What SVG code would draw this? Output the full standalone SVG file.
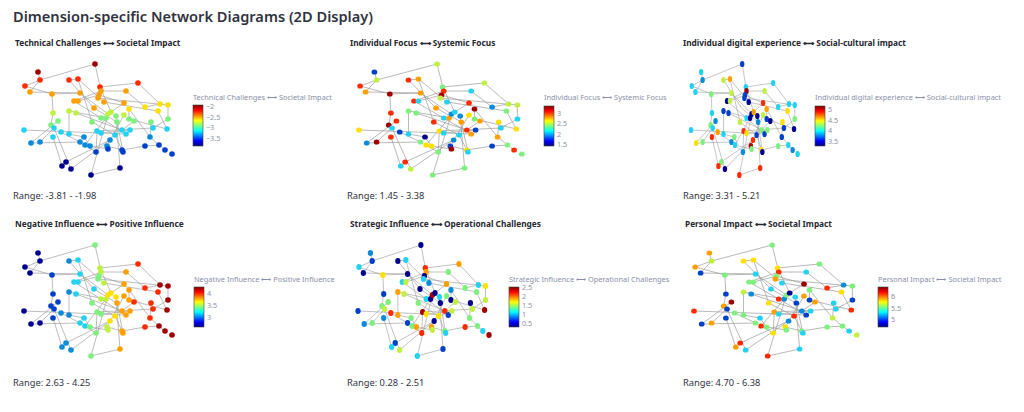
<svg xmlns="http://www.w3.org/2000/svg" width="1024" height="412" viewBox="0 0 1024 412">
<style>
text{font-family:"Noto Sans","Liberation Sans",sans-serif}
.h{font-size:14.6px;font-weight:600;fill:#31333f}
.t{font-size:8.3px;font-weight:700;fill:#262730}
.r{font-size:9.3px;fill:#31333f}
.ct{font-size:7.4px;fill:#8a8fa8}
.tk{font-size:7.2px;fill:#8a8fa8}
.e line{stroke:#a0a0a0;stroke-width:0.7}
.cb{stroke:#444;stroke-width:0.6}
.c0{fill:#00008f}.c1{fill:#0040c8}.c2{fill:#0a8ad8}.c3{fill:#22d2f0}.c4{fill:#7ef07e}.c5{fill:#c0f040}.c6{fill:#ffe000}.c7{fill:#ffa000}.c8{fill:#ff2a00}.c9{fill:#a00000}
#nodes3 circle{r:3.1px}
</style>
<defs>
<linearGradient id="jet" x1="0" y1="1" x2="0" y2="0">
<stop offset="0" stop-color="#00007f"/><stop offset="0.125" stop-color="#0000ff"/><stop offset="0.375" stop-color="#00ffff"/><stop offset="0.625" stop-color="#ffff00"/><stop offset="0.875" stop-color="#ff0000"/><stop offset="1" stop-color="#7f0000"/>
</linearGradient>
<g id="edges" class="e">
<line x1="95" y1="64" x2="40" y2="80"/><line x1="95" y1="64" x2="101" y2="91"/><line x1="38" y1="72" x2="40" y2="80"/><line x1="25" y1="86" x2="40" y2="80"/><line x1="30" y1="92" x2="40" y2="80"/><line x1="30" y1="92" x2="80" y2="93"/><line x1="25" y1="86" x2="52" y2="94"/><line x1="52" y1="94" x2="53" y2="113"/><line x1="53" y1="113" x2="51" y2="125"/><line x1="138" y1="83" x2="100" y2="87"/><line x1="138" y1="83" x2="160" y2="104"/><line x1="160" y1="104" x2="145" y2="107"/><line x1="145" y1="107" x2="126" y2="91"/><line x1="126" y1="91" x2="101" y2="91"/><line x1="69" y1="80" x2="94" y2="108"/><line x1="78" y1="79" x2="104" y2="102"/><line x1="78" y1="79" x2="92" y2="122"/><line x1="74" y1="101" x2="101" y2="118"/><line x1="78" y1="101" x2="99" y2="95"/><line x1="99" y1="95" x2="124" y2="103"/><line x1="124" y1="103" x2="111" y2="112"/><line x1="98" y1="98" x2="168" y2="105"/><line x1="100" y1="87" x2="111" y2="112"/><line x1="80" y1="93" x2="108" y2="114"/><line x1="101" y1="91" x2="74" y2="101"/><line x1="94" y1="108" x2="117" y2="122"/><line x1="129" y1="109" x2="129" y2="119"/><line x1="168" y1="105" x2="168" y2="119"/><line x1="158" y1="111" x2="167" y2="129"/><line x1="168" y1="119" x2="153" y2="128"/><line x1="151" y1="122" x2="150" y2="137"/><line x1="150" y1="137" x2="159" y2="145"/><line x1="159" y1="145" x2="165" y2="150"/><line x1="24" y1="130" x2="126" y2="134"/><line x1="61" y1="132" x2="80" y2="142"/><line x1="69" y1="134" x2="84" y2="137"/><line x1="53" y1="137" x2="62" y2="166"/><line x1="54" y1="128" x2="71" y2="169"/><line x1="58" y1="121" x2="31" y2="143"/><line x1="69" y1="111" x2="69" y2="134"/><line x1="69" y1="111" x2="106" y2="118"/><line x1="92" y1="122" x2="115" y2="135"/><line x1="116" y1="116" x2="120" y2="168"/><line x1="108" y1="114" x2="91" y2="175"/><line x1="124" y1="115" x2="107" y2="146"/><line x1="134" y1="121" x2="122" y2="130"/><line x1="153" y1="128" x2="97" y2="131"/><line x1="97" y1="131" x2="96" y2="152"/><line x1="101" y1="133" x2="130" y2="130"/><line x1="115" y1="135" x2="123" y2="152"/><line x1="110" y1="140" x2="66" y2="162"/><line x1="84" y1="137" x2="90" y2="146"/><line x1="85" y1="145" x2="96" y2="152"/><line x1="90" y1="146" x2="108" y2="149"/><line x1="107" y1="146" x2="122" y2="150"/><line x1="122" y1="150" x2="145" y2="146"/><line x1="145" y1="146" x2="159" y2="145"/><line x1="120" y1="168" x2="91" y2="175"/><line x1="71" y1="169" x2="110" y2="140"/><line x1="80" y1="142" x2="31" y2="143"/><line x1="76" y1="113" x2="122" y2="130"/><line x1="101" y1="118" x2="126" y2="134"/><line x1="52" y1="94" x2="80" y2="93"/><line x1="69" y1="80" x2="78" y2="79"/><line x1="104" y1="102" x2="158" y2="111"/><line x1="129" y1="119" x2="167" y2="129"/><line x1="106" y1="118" x2="85" y2="145"/><line x1="117" y1="122" x2="123" y2="152"/><line x1="129" y1="109" x2="150" y2="137"/><line x1="40" y1="142" x2="54" y2="128"/>
</g>
</defs>
<rect width="1024" height="412" fill="#ffffff"/>
<text class="h" x="13" y="22">Dimension-specific Network Diagrams (2D Display)</text>

<text class="t" x="15" y="46">Technical Challenges ⟷ Societal Impact</text>
<text class="t" x="350" y="46">Individual Focus ⟷ Systemic Focus</text>
<text class="t" x="683" y="46">Individual digital experience ⟷ Social-cultural impact</text>
<text class="t" x="15" y="227">Negative Influence ⟷ Positive Influence</text>
<text class="t" x="350" y="227">Strategic Influence ⟷ Operational Challenges</text>
<text class="t" x="685" y="227">Personal Impact ⟷ Societal Impact</text>
<text class="r" x="13" y="199">Range: -3.81 - -1.98</text>
<text class="r" x="347" y="199">Range: 1.45 - 3.38</text>
<text class="r" x="683" y="199">Range: 3.31 - 5.21</text>
<text class="r" x="13" y="386">Range: 2.63 - 4.25</text>
<text class="r" x="347" y="386">Range: 0.28 - 2.51</text>
<text class="r" x="683" y="386">Range: 4.70 - 6.38</text>

<g id="colorbars">
<text class="ct" x="193" y="100">Technical Challenges ⟷ Societal Impact</text>
<rect class="cb" x="193" y="105" width="10" height="41" fill="url(#jet)"/>
<text class="tk" x="206" y="109">−2</text><text class="tk" x="206" y="120">−2.5</text><text class="tk" x="206" y="130">−3</text><text class="tk" x="206" y="141">−3.5</text>
<text class="ct" x="544" y="100">Individual Focus ⟷ Systemic Focus</text>
<rect class="cb" x="544" y="106" width="10" height="40" fill="url(#jet)"/>
<text class="tk" x="557" y="116">3</text><text class="tk" x="557" y="126">2.5</text><text class="tk" x="557" y="137">2</text><text class="tk" x="557" y="147">1.5</text>
<text class="ct" x="815" y="100">Individual digital experience ⟷ Social-cultural impact</text>
<rect class="cb" x="815" y="106" width="10" height="40" fill="url(#jet)"/>
<text class="tk" x="828" y="112">5</text><text class="tk" x="828" y="123">4.5</text><text class="tk" x="828" y="133">4</text><text class="tk" x="828" y="144">3.5</text>
<text class="ct" x="194" y="282">Negative Influence ⟷ Positive Influence</text>
<rect class="cb" x="194" y="287" width="10" height="40" fill="url(#jet)"/>
<text class="tk" x="207" y="296">4</text><text class="tk" x="207" y="308">3.5</text><text class="tk" x="207" y="320">3</text>
<text class="ct" x="509" y="282">Strategic Influence ⟷ Operational Challenges</text>
<rect class="cb" x="509" y="287" width="10" height="40" fill="url(#jet)"/>
<text class="tk" x="522" y="290">2.5</text><text class="tk" x="522" y="299">2</text><text class="tk" x="522" y="308">1.5</text><text class="tk" x="522" y="317">1</text><text class="tk" x="522" y="326">0.5</text>
<text class="ct" x="878" y="282">Personal Impact ⟷ Societal Impact</text>
<rect class="cb" x="878" y="287" width="10" height="40" fill="url(#jet)"/>
<text class="tk" x="891" y="299">6</text><text class="tk" x="891" y="311">5.5</text><text class="tk" x="891" y="322">5</text>
</g>

<g id="connectors">
<use href="#edges"/>
<use href="#edges" transform="translate(332.6,0) scale(1.1,1)"/>
<use href="#edges" transform="translate(673.8,0) scale(0.72,1)"/>
<use href="#edges" transform="translate(0,181)"/>
<use href="#edges" transform="translate(336.8,181) scale(0.885,1)"/>
<use href="#edges" transform="translate(667.6,181) scale(1.1,1)"/>
</g>

<g id="nodes1">
<circle class="c9" cx="95" cy="64" r="2.8"/><circle class="c9" cx="38" cy="72" r="2.8"/><circle class="c8" cx="40" cy="80" r="2.8"/><circle class="c8" cx="25" cy="86" r="2.8"/><circle class="c7" cx="30" cy="92" r="2.8"/><circle class="c8" cx="69" cy="80" r="2.8"/><circle class="c8" cx="78" cy="79" r="2.8"/><circle class="c8" cx="100" cy="87" r="2.8"/><circle class="c7" cx="101" cy="91" r="2.8"/><circle class="c7" cx="99" cy="95" r="2.8"/><circle class="c7" cx="98" cy="98" r="2.8"/><circle class="c7" cx="52" cy="94" r="2.8"/><circle class="c7" cx="80" cy="93" r="2.8"/><circle class="c7" cx="126" cy="91" r="2.8"/><circle class="c8" cx="138" cy="83" r="2.8"/><circle class="c7" cx="74" cy="101" r="2.8"/><circle class="c7" cx="78" cy="101" r="2.8"/><circle class="c7" cx="104" cy="102" r="2.8"/><circle class="c7" cx="94" cy="108" r="2.8"/><circle class="c7" cx="124" cy="103" r="2.8"/><circle class="c6" cx="129" cy="109" r="2.8"/><circle class="c6" cx="145" cy="107" r="2.8"/><circle class="c6" cx="160" cy="104" r="2.8"/><circle class="c6" cx="168" cy="105" r="2.8"/><circle class="c6" cx="158" cy="111" r="2.8"/><circle class="c4" cx="168" cy="119" r="2.8"/><circle class="c5" cx="53" cy="113" r="2.8"/><circle class="c4" cx="58" cy="121" r="2.8"/><circle class="c5" cx="69" cy="111" r="2.8"/><circle class="c5" cx="76" cy="113" r="2.8"/><circle class="c4" cx="51" cy="125" r="2.8"/><circle class="c3" cx="54" cy="128" r="2.8"/><circle class="c4" cx="92" cy="122" r="2.8"/><circle class="c4" cx="101" cy="118" r="2.8"/><circle class="c4" cx="106" cy="118" r="2.8"/><circle class="c5" cx="108" cy="114" r="2.8"/><circle class="c5" cx="111" cy="112" r="2.8"/><circle class="c4" cx="116" cy="116" r="2.8"/><circle class="c5" cx="124" cy="115" r="2.8"/><circle class="c4" cx="117" cy="122" r="2.8"/><circle class="c4" cx="129" cy="119" r="2.8"/><circle class="c4" cx="134" cy="121" r="2.8"/><circle class="c4" cx="151" cy="122" r="2.8"/><circle class="c3" cx="153" cy="128" r="2.8"/><circle class="c3" cx="167" cy="129" r="2.8"/><circle class="c3" cx="24" cy="130" r="2.8"/><circle class="c3" cx="61" cy="132" r="2.8"/><circle class="c3" cx="69" cy="134" r="2.8"/><circle class="c3" cx="53" cy="137" r="2.8"/><circle class="c3" cx="97" cy="131" r="2.8"/><circle class="c3" cx="101" cy="133" r="2.8"/><circle class="c3" cx="122" cy="130" r="2.8"/><circle class="c3" cx="126" cy="134" r="2.8"/><circle class="c3" cx="130" cy="130" r="2.8"/><circle class="c3" cx="115" cy="135" r="2.8"/><circle class="c2" cx="84" cy="137" r="2.8"/><circle class="c2" cx="150" cy="137" r="2.8"/><circle class="c2" cx="110" cy="140" r="2.8"/><circle class="c2" cx="31" cy="143" r="2.8"/><circle class="c2" cx="40" cy="142" r="2.8"/><circle class="c2" cx="80" cy="142" r="2.8"/><circle class="c2" cx="85" cy="145" r="2.8"/><circle class="c2" cx="90" cy="146" r="2.8"/><circle class="c2" cx="107" cy="146" r="2.8"/><circle class="c1" cx="108" cy="149" r="2.8"/><circle class="c1" cx="96" cy="152" r="2.8"/><circle class="c1" cx="122" cy="150" r="2.8"/><circle class="c1" cx="123" cy="152" r="2.8"/><circle class="c1" cx="145" cy="146" r="2.8"/><circle class="c1" cx="159" cy="145" r="2.8"/><circle class="c1" cx="165" cy="150" r="2.8"/><circle class="c1" cx="172" cy="154" r="2.8"/><circle class="c0" cx="66" cy="162" r="2.8"/><circle class="c0" cx="62" cy="166" r="2.8"/><circle class="c0" cx="71" cy="169" r="2.8"/><circle class="c0" cx="120" cy="168" r="2.8"/><circle class="c0" cx="91" cy="175" r="2.8"/>
</g>

<g id="nodes2" transform="translate(332.6,0) scale(1.1,1)">
<circle class="c5" cx="95" cy="64" r="2.6"/><circle class="c1" cx="38" cy="72" r="2.6"/><circle class="c5" cx="40" cy="80" r="2.6"/><circle class="c8" cx="25" cy="86" r="2.6"/><circle class="c7" cx="30" cy="92" r="2.6"/><circle class="c8" cx="69" cy="80" r="2.6"/><circle class="c7" cx="78" cy="79" r="2.6"/><circle class="c4" cx="100" cy="87" r="2.6"/><circle class="c8" cx="101" cy="91" r="2.6"/><circle class="c9" cx="99" cy="95" r="2.6"/><circle class="c5" cx="98" cy="98" r="2.6"/><circle class="c9" cx="52" cy="94" r="2.6"/><circle class="c7" cx="80" cy="93" r="2.6"/><circle class="c3" cx="126" cy="91" r="2.6"/><circle class="c5" cx="138" cy="83" r="2.6"/><circle class="c8" cx="74" cy="101" r="2.6"/><circle class="c3" cx="78" cy="101" r="2.6"/><circle class="c3" cx="104" cy="102" r="2.6"/><circle class="c7" cx="94" cy="108" r="2.6"/><circle class="c8" cx="124" cy="103" r="2.6"/><circle class="c9" cx="129" cy="109" r="2.6"/><circle class="c2" cx="145" cy="107" r="2.6"/><circle class="c5" cx="160" cy="104" r="2.6"/><circle class="c5" cx="168" cy="105" r="2.6"/><circle class="c4" cx="158" cy="111" r="2.6"/><circle class="c3" cx="168" cy="119" r="2.6"/><circle class="c8" cx="53" cy="113" r="2.6"/><circle class="c8" cx="58" cy="121" r="2.6"/><circle class="c4" cx="69" cy="111" r="2.6"/><circle class="c4" cx="76" cy="113" r="2.6"/><circle class="c9" cx="51" cy="125" r="2.6"/><circle class="c3" cx="54" cy="128" r="2.6"/><circle class="c8" cx="92" cy="122" r="2.6"/><circle class="c3" cx="101" cy="118" r="2.6"/><circle class="c7" cx="106" cy="118" r="2.6"/><circle class="c2" cx="108" cy="114" r="2.6"/><circle class="c3" cx="111" cy="112" r="2.6"/><circle class="c2" cx="116" cy="116" r="2.6"/><circle class="c6" cx="124" cy="115" r="2.6"/><circle class="c7" cx="117" cy="122" r="2.6"/><circle class="c4" cx="129" cy="119" r="2.6"/><circle class="c7" cx="134" cy="121" r="2.6"/><circle class="c6" cx="151" cy="122" r="2.6"/><circle class="c3" cx="153" cy="128" r="2.6"/><circle class="c6" cx="167" cy="129" r="2.6"/><circle class="c6" cx="24" cy="130" r="2.6"/><circle class="c1" cx="61" cy="132" r="2.6"/><circle class="c3" cx="69" cy="134" r="2.6"/><circle class="c8" cx="53" cy="137" r="2.6"/><circle class="c6" cx="97" cy="131" r="2.6"/><circle class="c3" cx="101" cy="133" r="2.6"/><circle class="c8" cx="122" cy="130" r="2.6"/><circle class="c7" cx="126" cy="134" r="2.6"/><circle class="c1" cx="130" cy="130" r="2.6"/><circle class="c3" cx="115" cy="135" r="2.6"/><circle class="c0" cx="84" cy="137" r="2.6"/><circle class="c7" cx="150" cy="137" r="2.6"/><circle class="c2" cx="110" cy="140" r="2.6"/><circle class="c2" cx="31" cy="143" r="2.6"/><circle class="c9" cx="40" cy="142" r="2.6"/><circle class="c4" cx="80" cy="142" r="2.6"/><circle class="c6" cx="85" cy="145" r="2.6"/><circle class="c6" cx="90" cy="146" r="2.6"/><circle class="c1" cx="107" cy="146" r="2.6"/><circle class="c9" cx="108" cy="149" r="2.6"/><circle class="c4" cx="96" cy="152" r="2.6"/><circle class="c6" cx="122" cy="150" r="2.6"/><circle class="c3" cx="123" cy="152" r="2.6"/><circle class="c1" cx="145" cy="146" r="2.6"/><circle class="c4" cx="159" cy="145" r="2.6"/><circle class="c8" cx="165" cy="150" r="2.6"/><circle class="c4" cx="172" cy="154" r="2.6"/><circle class="c8" cx="66" cy="162" r="2.6"/><circle class="c3" cx="62" cy="166" r="2.6"/><circle class="c5" cx="71" cy="169" r="2.6"/><circle class="c4" cx="120" cy="168" r="2.6"/><circle class="c4" cx="91" cy="175" r="2.6"/>
</g>

<g id="nodes3" transform="translate(673.8,0) scale(0.72,1)">
<circle class="c1" cx="95" cy="64" r="3.1"/><circle class="c3" cx="38" cy="72" r="3.1"/><circle class="c2" cx="40" cy="80" r="3.1"/><circle class="c3" cx="25" cy="86" r="3.1"/><circle class="c3" cx="30" cy="92" r="3.1"/><circle class="c5" cx="69" cy="80" r="3.1"/><circle class="c7" cx="78" cy="79" r="3.1"/><circle class="c3" cx="100" cy="87" r="3.1"/><circle class="c9" cx="101" cy="91" r="3.1"/><circle class="c1" cx="99" cy="95" r="3.1"/><circle class="c1" cx="98" cy="98" r="3.1"/><circle class="c4" cx="52" cy="94" r="3.1"/><circle class="c5" cx="80" cy="93" r="3.1"/><circle class="c5" cx="126" cy="91" r="3.1"/><circle class="c3" cx="138" cy="83" r="3.1"/><circle class="c0" cx="74" cy="101" r="3.1"/><circle class="c5" cx="78" cy="101" r="3.1"/><circle class="c0" cx="104" cy="102" r="3.1"/><circle class="c8" cx="124" cy="103" r="3.1"/><circle class="c7" cx="129" cy="109" r="3.1"/><circle class="c0" cx="116" cy="116" r="3.1"/><circle class="c3" cx="145" cy="107" r="3.1"/><circle class="c3" cx="160" cy="104" r="3.1"/><circle class="c3" cx="168" cy="105" r="3.1"/><circle class="c6" cx="158" cy="111" r="3.1"/><circle class="c4" cx="168" cy="119" r="3.1"/><circle class="c3" cx="53" cy="113" r="3.1"/><circle class="c2" cx="58" cy="121" r="3.1"/><circle class="c1" cx="69" cy="111" r="3.1"/><circle class="c1" cx="76" cy="113" r="3.1"/><circle class="c4" cx="51" cy="125" r="3.1"/><circle class="c3" cx="54" cy="128" r="3.1"/><circle class="c5" cx="92" cy="122" r="3.1"/><circle class="c3" cx="101" cy="118" r="3.1"/><circle class="c0" cx="106" cy="118" r="3.1"/><circle class="c0" cx="108" cy="114" r="3.1"/><circle class="c7" cx="111" cy="112" r="3.1"/><circle class="c5" cx="124" cy="115" r="3.1"/><circle class="c2" cx="117" cy="122" r="3.1"/><circle class="c1" cx="129" cy="119" r="3.1"/><circle class="c0" cx="134" cy="121" r="3.1"/><circle class="c6" cx="151" cy="122" r="3.1"/><circle class="c1" cx="153" cy="128" r="3.1"/><circle class="c0" cx="167" cy="129" r="3.1"/><circle class="c3" cx="24" cy="130" r="3.1"/><circle class="c7" cx="61" cy="132" r="3.1"/><circle class="c3" cx="69" cy="134" r="3.1"/><circle class="c8" cx="53" cy="137" r="3.1"/><circle class="c8" cx="97" cy="131" r="3.1"/><circle class="c6" cx="101" cy="133" r="3.1"/><circle class="c4" cx="122" cy="130" r="3.1"/><circle class="c1" cx="126" cy="134" r="3.1"/><circle class="c4" cx="130" cy="130" r="3.1"/><circle class="c1" cx="115" cy="135" r="3.1"/><circle class="c4" cx="84" cy="137" r="3.1"/><circle class="c1" cx="150" cy="137" r="3.1"/><circle class="c8" cx="110" cy="140" r="3.1"/><circle class="c6" cx="31" cy="143" r="3.1"/><circle class="c4" cx="40" cy="142" r="3.1"/><circle class="c2" cx="80" cy="142" r="3.1"/><circle class="c3" cx="85" cy="145" r="3.1"/><circle class="c9" cx="107" cy="146" r="3.1"/><circle class="c4" cx="108" cy="149" r="3.1"/><circle class="c2" cx="96" cy="152" r="3.1"/><circle class="c6" cx="122" cy="150" r="3.1"/><circle class="c0" cx="123" cy="152" r="3.1"/><circle class="c4" cx="145" cy="146" r="3.1"/><circle class="c3" cx="159" cy="145" r="3.1"/><circle class="c2" cx="165" cy="150" r="3.1"/><circle class="c3" cx="172" cy="154" r="3.1"/><circle class="c4" cx="66" cy="162" r="3.1"/><circle class="c8" cx="62" cy="166" r="3.1"/><circle class="c0" cx="71" cy="169" r="3.1"/><circle class="c8" cx="120" cy="168" r="3.1"/><circle class="c8" cx="91" cy="175" r="3.1"/>
</g>

<g id="nodes4" transform="translate(0,181)">
<circle class="c4" cx="95" cy="64" r="2.8"/><circle class="c0" cx="38" cy="72" r="2.8"/><circle class="c0" cx="40" cy="80" r="2.8"/><circle class="c0" cx="25" cy="86" r="2.8"/><circle class="c0" cx="30" cy="92" r="2.8"/><circle class="c2" cx="69" cy="80" r="2.8"/><circle class="c3" cx="78" cy="79" r="2.8"/><circle class="c5" cx="100" cy="87" r="2.8"/><circle class="c5" cx="101" cy="91" r="2.8"/><circle class="c4" cx="99" cy="95" r="2.8"/><circle class="c4" cx="98" cy="98" r="2.8"/><circle class="c1" cx="52" cy="94" r="2.8"/><circle class="c3" cx="80" cy="93" r="2.8"/><circle class="c7" cx="126" cy="91" r="2.8"/><circle class="c8" cx="138" cy="83" r="2.8"/><circle class="c3" cx="74" cy="101" r="2.8"/><circle class="c3" cx="78" cy="101" r="2.8"/><circle class="c5" cx="104" cy="102" r="2.8"/><circle class="c3" cx="94" cy="108" r="2.8"/><circle class="c7" cx="124" cy="103" r="2.8"/><circle class="c7" cx="129" cy="109" r="2.8"/><circle class="c8" cx="145" cy="107" r="2.8"/><circle class="c9" cx="160" cy="104" r="2.8"/><circle class="c9" cx="168" cy="105" r="2.8"/><circle class="c8" cx="158" cy="111" r="2.8"/><circle class="c9" cx="168" cy="119" r="2.8"/><circle class="c1" cx="53" cy="113" r="2.8"/><circle class="c1" cx="58" cy="121" r="2.8"/><circle class="c2" cx="69" cy="111" r="2.8"/><circle class="c3" cx="76" cy="113" r="2.8"/><circle class="c1" cx="51" cy="125" r="2.8"/><circle class="c1" cx="54" cy="128" r="2.8"/><circle class="c4" cx="92" cy="122" r="2.8"/><circle class="c5" cx="101" cy="118" r="2.8"/><circle class="c5" cx="106" cy="118" r="2.8"/><circle class="c6" cx="108" cy="114" r="2.8"/><circle class="c6" cx="111" cy="112" r="2.8"/><circle class="c6" cx="116" cy="116" r="2.8"/><circle class="c7" cx="124" cy="115" r="2.8"/><circle class="c7" cx="117" cy="122" r="2.8"/><circle class="c7" cx="129" cy="119" r="2.8"/><circle class="c8" cx="134" cy="121" r="2.8"/><circle class="c8" cx="151" cy="122" r="2.8"/><circle class="c8" cx="153" cy="128" r="2.8"/><circle class="c9" cx="167" cy="129" r="2.8"/><circle class="c0" cx="24" cy="130" r="2.8"/><circle class="c2" cx="61" cy="132" r="2.8"/><circle class="c2" cx="69" cy="134" r="2.8"/><circle class="c1" cx="53" cy="137" r="2.8"/><circle class="c4" cx="97" cy="131" r="2.8"/><circle class="c4" cx="101" cy="133" r="2.8"/><circle class="c7" cx="122" cy="130" r="2.8"/><circle class="c7" cx="126" cy="134" r="2.8"/><circle class="c7" cx="130" cy="130" r="2.8"/><circle class="c6" cx="115" cy="135" r="2.8"/><circle class="c3" cx="84" cy="137" r="2.8"/><circle class="c8" cx="150" cy="137" r="2.8"/><circle class="c6" cx="110" cy="140" r="2.8"/><circle class="c0" cx="31" cy="143" r="2.8"/><circle class="c0" cx="40" cy="142" r="2.8"/><circle class="c3" cx="80" cy="142" r="2.8"/><circle class="c3" cx="85" cy="145" r="2.8"/><circle class="c4" cx="90" cy="146" r="2.8"/><circle class="c5" cx="107" cy="146" r="2.8"/><circle class="c5" cx="108" cy="149" r="2.8"/><circle class="c4" cx="96" cy="152" r="2.8"/><circle class="c7" cx="122" cy="150" r="2.8"/><circle class="c7" cx="123" cy="152" r="2.8"/><circle class="c8" cx="145" cy="146" r="2.8"/><circle class="c9" cx="159" cy="145" r="2.8"/><circle class="c9" cx="165" cy="150" r="2.8"/><circle class="c9" cx="172" cy="154" r="2.8"/><circle class="c2" cx="66" cy="162" r="2.8"/><circle class="c2" cx="62" cy="166" r="2.8"/><circle class="c2" cx="71" cy="169" r="2.8"/><circle class="c7" cx="120" cy="168" r="2.8"/><circle class="c4" cx="91" cy="175" r="2.8"/>
</g>

<g id="nodes5" transform="translate(336.8,181) scale(0.885,1)">
<circle class="c0" cx="95" cy="64" r="3"/><circle class="c2" cx="38" cy="72" r="3"/><circle class="c1" cx="40" cy="80" r="3"/><circle class="c3" cx="25" cy="86" r="3"/><circle class="c0" cx="30" cy="92" r="3"/><circle class="c0" cx="69" cy="80" r="3"/><circle class="c3" cx="78" cy="79" r="3"/><circle class="c8" cx="100" cy="87" r="3"/><circle class="c7" cx="101" cy="91" r="3"/><circle class="c0" cx="99" cy="95" r="3"/><circle class="c3" cx="98" cy="98" r="3"/><circle class="c6" cx="52" cy="94" r="3"/><circle class="c0" cx="80" cy="93" r="3"/><circle class="c4" cx="126" cy="91" r="3"/><circle class="c7" cx="138" cy="83" r="3"/><circle class="c3" cx="74" cy="101" r="3"/><circle class="c5" cx="78" cy="101" r="3"/><circle class="c2" cx="104" cy="102" r="3"/><circle class="c0" cx="94" cy="108" r="3"/><circle class="c7" cx="124" cy="103" r="3"/><circle class="c2" cx="129" cy="109" r="3"/><circle class="c4" cx="145" cy="107" r="3"/><circle class="c3" cx="160" cy="104" r="3"/><circle class="c6" cx="168" cy="105" r="3"/><circle class="c4" cx="158" cy="111" r="3"/><circle class="c5" cx="168" cy="119" r="3"/><circle class="c1" cx="53" cy="113" r="3"/><circle class="c4" cx="58" cy="121" r="3"/><circle class="c7" cx="69" cy="111" r="3"/><circle class="c5" cx="76" cy="113" r="3"/><circle class="c4" cx="51" cy="125" r="3"/><circle class="c5" cx="54" cy="128" r="3"/><circle class="c4" cx="92" cy="122" r="3"/><circle class="c3" cx="101" cy="118" r="3"/><circle class="c0" cx="106" cy="118" r="3"/><circle class="c9" cx="108" cy="114" r="3"/><circle class="c0" cx="111" cy="112" r="3"/><circle class="c3" cx="116" cy="116" r="3"/><circle class="c4" cx="124" cy="115" r="3"/><circle class="c0" cx="117" cy="122" r="3"/><circle class="c0" cx="129" cy="119" r="3"/><circle class="c5" cx="134" cy="121" r="3"/><circle class="c0" cx="151" cy="122" r="3"/><circle class="c5" cx="153" cy="128" r="3"/><circle class="c9" cx="167" cy="129" r="3"/><circle class="c1" cx="24" cy="130" r="3"/><circle class="c8" cx="61" cy="132" r="3"/><circle class="c7" cx="69" cy="134" r="3"/><circle class="c2" cx="53" cy="137" r="3"/><circle class="c9" cx="97" cy="131" r="3"/><circle class="c6" cx="101" cy="133" r="3"/><circle class="c8" cx="122" cy="130" r="3"/><circle class="c1" cx="126" cy="134" r="3"/><circle class="c5" cx="130" cy="130" r="3"/><circle class="c6" cx="115" cy="135" r="3"/><circle class="c4" cx="84" cy="137" r="3"/><circle class="c4" cx="150" cy="137" r="3"/><circle class="c0" cx="110" cy="140" r="3"/><circle class="c2" cx="31" cy="143" r="3"/><circle class="c4" cx="40" cy="142" r="3"/><circle class="c1" cx="80" cy="142" r="3"/><circle class="c4" cx="85" cy="145" r="3"/><circle class="c7" cx="90" cy="146" r="3"/><circle class="c7" cx="107" cy="146" r="3"/><circle class="c5" cx="108" cy="149" r="3"/><circle class="c8" cx="96" cy="152" r="3"/><circle class="c4" cx="122" cy="150" r="3"/><circle class="c3" cx="123" cy="152" r="3"/><circle class="c8" cx="145" cy="146" r="3"/><circle class="c4" cx="159" cy="145" r="3"/><circle class="c3" cx="165" cy="150" r="3"/><circle class="c9" cx="172" cy="154" r="3"/><circle class="c1" cx="66" cy="162" r="3"/><circle class="c3" cx="62" cy="166" r="3"/><circle class="c5" cx="71" cy="169" r="3"/><circle class="c1" cx="120" cy="168" r="3"/><circle class="c3" cx="91" cy="175" r="3"/>
</g>

<g id="nodes6" transform="translate(667.6,181) scale(1.1,1)">
<circle class="c4" cx="95" cy="64" r="2.6"/><circle class="c7" cx="38" cy="72" r="2.6"/><circle class="c5" cx="40" cy="80" r="2.6"/><circle class="c7" cx="25" cy="86" r="2.6"/><circle class="c1" cx="30" cy="92" r="2.6"/><circle class="c6" cx="69" cy="80" r="2.6"/><circle class="c6" cx="78" cy="79" r="2.6"/><circle class="c6" cx="100" cy="87" r="2.6"/><circle class="c8" cx="101" cy="91" r="2.6"/><circle class="c4" cx="99" cy="95" r="2.6"/><circle class="c7" cx="98" cy="98" r="2.6"/><circle class="c4" cx="52" cy="94" r="2.6"/><circle class="c3" cx="80" cy="93" r="2.6"/><circle class="c3" cx="126" cy="91" r="2.6"/><circle class="c4" cx="138" cy="83" r="2.6"/><circle class="c4" cx="74" cy="101" r="2.6"/><circle class="c4" cx="78" cy="101" r="2.6"/><circle class="c3" cx="104" cy="102" r="2.6"/><circle class="c3" cx="94" cy="108" r="2.6"/><circle class="c9" cx="124" cy="103" r="2.6"/><circle class="c4" cx="129" cy="109" r="2.6"/><circle class="c8" cx="145" cy="107" r="2.6"/><circle class="c2" cx="160" cy="104" r="2.6"/><circle class="c4" cx="168" cy="105" r="2.6"/><circle class="c6" cx="158" cy="111" r="2.6"/><circle class="c1" cx="168" cy="119" r="2.6"/><circle class="c1" cx="53" cy="113" r="2.6"/><circle class="c9" cx="58" cy="121" r="2.6"/><circle class="c5" cx="69" cy="111" r="2.6"/><circle class="c2" cx="76" cy="113" r="2.6"/><circle class="c7" cx="51" cy="125" r="2.6"/><circle class="c1" cx="54" cy="128" r="2.6"/><circle class="c6" cx="92" cy="122" r="2.6"/><circle class="c8" cx="101" cy="118" r="2.6"/><circle class="c2" cx="106" cy="118" r="2.6"/><circle class="c4" cx="108" cy="114" r="2.6"/><circle class="c0" cx="111" cy="112" r="2.6"/><circle class="c3" cx="116" cy="116" r="2.6"/><circle class="c7" cx="124" cy="115" r="2.6"/><circle class="c1" cx="117" cy="122" r="2.6"/><circle class="c1" cx="129" cy="119" r="2.6"/><circle class="c7" cx="134" cy="121" r="2.6"/><circle class="c3" cx="151" cy="122" r="2.6"/><circle class="c3" cx="153" cy="128" r="2.6"/><circle class="c8" cx="167" cy="129" r="2.6"/><circle class="c8" cx="24" cy="130" r="2.6"/><circle class="c4" cx="61" cy="132" r="2.6"/><circle class="c4" cx="69" cy="134" r="2.6"/><circle class="c1" cx="53" cy="137" r="2.6"/><circle class="c7" cx="97" cy="131" r="2.6"/><circle class="c3" cx="101" cy="133" r="2.6"/><circle class="c2" cx="122" cy="130" r="2.6"/><circle class="c1" cx="126" cy="134" r="2.6"/><circle class="c3" cx="130" cy="130" r="2.6"/><circle class="c8" cx="115" cy="135" r="2.6"/><circle class="c3" cx="84" cy="137" r="2.6"/><circle class="c5" cx="150" cy="137" r="2.6"/><circle class="c2" cx="110" cy="140" r="2.6"/><circle class="c1" cx="31" cy="143" r="2.6"/><circle class="c7" cx="40" cy="142" r="2.6"/><circle class="c4" cx="80" cy="142" r="2.6"/><circle class="c8" cx="85" cy="145" r="2.6"/><circle class="c4" cx="90" cy="146" r="2.6"/><circle class="c6" cx="107" cy="146" r="2.6"/><circle class="c4" cx="108" cy="149" r="2.6"/><circle class="c6" cx="96" cy="152" r="2.6"/><circle class="c4" cx="122" cy="150" r="2.6"/><circle class="c3" cx="123" cy="152" r="2.6"/><circle class="c4" cx="145" cy="146" r="2.6"/><circle class="c4" cx="159" cy="145" r="2.6"/><circle class="c3" cx="165" cy="150" r="2.6"/><circle class="c5" cx="172" cy="154" r="2.6"/><circle class="c8" cx="66" cy="162" r="2.6"/><circle class="c7" cx="62" cy="166" r="2.6"/><circle class="c3" cx="71" cy="169" r="2.6"/><circle class="c3" cx="120" cy="168" r="2.6"/><circle class="c8" cx="91" cy="175" r="2.6"/>
</g>
</svg>
